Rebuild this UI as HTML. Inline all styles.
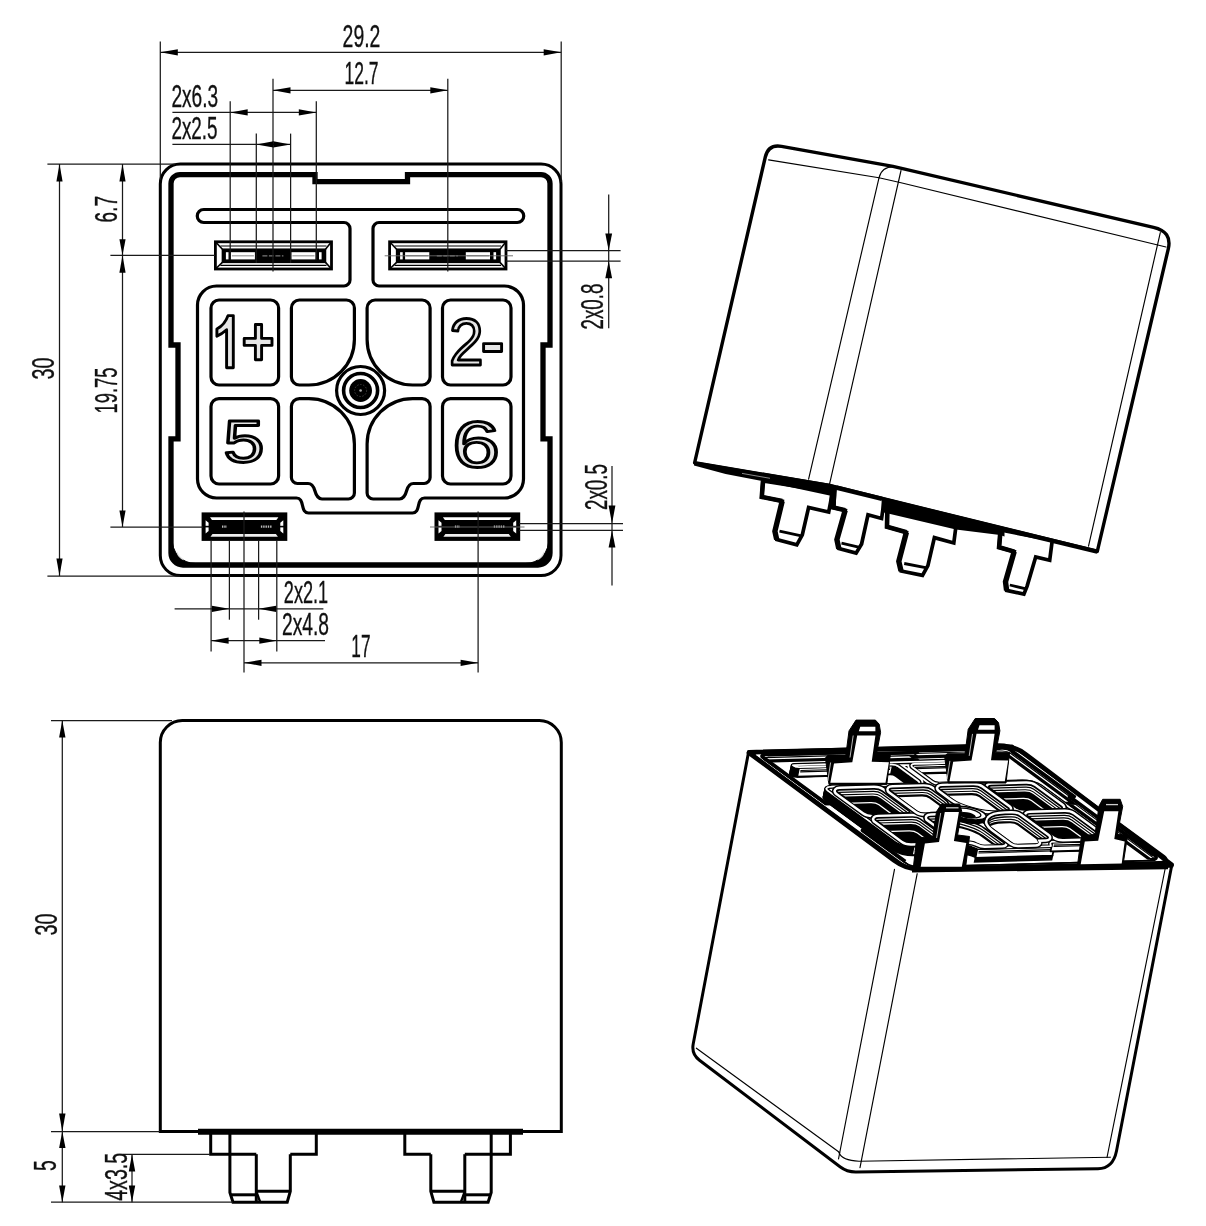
<!DOCTYPE html>
<html><head><meta charset="utf-8"><title>Relay drawing</title>
<style>
html,body{margin:0;padding:0;background:#fff;}
body{width:1206px;height:1226px;overflow:hidden;font-family:"Liberation Sans",sans-serif;}
svg{display:block;will-change:transform;}
</style></head><body>
<svg width="1206" height="1226" viewBox="0 0 1206 1226">
<rect x="0" y="0" width="1206" height="1226" fill="#fff"/>
<g id="view1">
<rect x="160.3" y="164" width="400.7" height="411.6" rx="20" ry="20" stroke="#000" stroke-width="3.0" fill="none" stroke-linejoin="round"/>
<path d="M 180,174.6 H 315 V 181.6 H 407.5 V 174.6 H 541 A 9 9 0 0 1 550,183.6 V 345 H 543 V 438.8 H 550 V 553 A 12 12 0 0 1 538,565 H 183 A 12 12 0 0 1 171,553 V 438.8 H 178 V 345 H 171 V 183.6 A 9 9 0 0 1 180,174.6 Z" stroke="#000" stroke-width="5.3" fill="none" stroke-linejoin="miter"/>
<path d="M 172.5,538 A 23 23 0 0 0 195.5,563.5 L 183,563.5 A 11 11 0 0 1 172.5,553 Z" fill="#000" stroke="#000" stroke-width="1"/>
<path d="M 176.8,552 A 14 14 0 0 0 183.5,559.8" stroke="#ddd" stroke-width="1.1" fill="none"/>
<path d="M 548.5,538 A 23 23 0 0 1 525.5,563.5 L 538,563.5 A 11 11 0 0 0 548.5,553 Z" fill="#000" stroke="#000" stroke-width="1"/>
<path d="M 544.2,552 A 14 14 0 0 1 537.5,559.8" stroke="#ddd" stroke-width="1.1" fill="none"/>
<path d="M 203.75,222.5 H 344 A 6 6 0 0 1 350,228.5 V 280 A 6 6 0 0 1 344,286 H 216.5 A 19 19 0 0 0 197.5,305 V 479 A 19 19 0 0 0 216.5,498 H 296.5 C 300.5,498 301.5,501 302.5,505.5 C 303.5,510 304.5,513 308.5,513 H 412.5 C 416.5,513 417.5,510 418.5,505.5 C 419.5,501 420.5,498 424.5,498 H 504.5 A 19 19 0 0 0 523.5,479 V 305 A 19 19 0 0 0 504.5,286 H 379 A 6 6 0 0 1 373,280 V 228.5 A 6 6 0 0 1 379,222.5 H 517.25 A 6.5 6.5 0 0 0 517.25,209.5 H 203.75 A 6.5 6.5 0 0 0 203.75,222.5 Z" stroke="#000" stroke-width="3.2" fill="none" stroke-linejoin="round"/>
<rect x="211" y="300" width="67.6" height="85.0" rx="8" ry="8" stroke="#000" stroke-width="3.2" fill="none" stroke-linejoin="round"/>
<rect x="442.5" y="300" width="68.5" height="85.0" rx="8" ry="8" stroke="#000" stroke-width="3.2" fill="none" stroke-linejoin="round"/>
<rect x="211" y="398.6" width="67.6" height="85.4" rx="8" ry="8" stroke="#000" stroke-width="3.2" fill="none" stroke-linejoin="round"/>
<rect x="442.5" y="398.6" width="68.5" height="85.4" rx="8" ry="8" stroke="#000" stroke-width="3.2" fill="none" stroke-linejoin="round"/>
<path d="M 291.4,308 A 8 8 0 0 1 299.4,300 H 346.4 A 8 8 0 0 1 354.4,308 V 339.5 A 45.5 45.5 0 0 1 308.9,385 H 299.4 A 8 8 0 0 1 291.4,377 Z" stroke="#000" stroke-width="3.2" fill="none" stroke-linejoin="round"/>
<path d="M 291.4,406.6 A 8 8 0 0 1 299.4,398.6 H 308.9 A 45.5 45.5 0 0 1 354.4,444.1 V 493 A 6 6 0 0 1 348.4,499 H 322 C 317.5,499 316,495 314.8,490.5 C 313.5,486 312,483.5 308,483.5 H 297.4 A 6 6 0 0 1 291.4,477.5 Z" stroke="#000" stroke-width="3.2" fill="none" stroke-linejoin="round"/>
<g transform="translate(721.5,0) scale(-1,1)">
<path d="M 291.4,308 A 8 8 0 0 1 299.4,300 H 346.4 A 8 8 0 0 1 354.4,308 V 339.5 A 45.5 45.5 0 0 1 308.9,385 H 299.4 A 8 8 0 0 1 291.4,377 Z" stroke="#000" stroke-width="3.2" fill="none" stroke-linejoin="round"/>
<path d="M 291.4,406.6 A 8 8 0 0 1 299.4,398.6 H 308.9 A 45.5 45.5 0 0 1 354.4,444.1 V 493 A 6 6 0 0 1 348.4,499 H 322 C 317.5,499 316,495 314.8,490.5 C 313.5,486 312,483.5 308,483.5 H 297.4 A 6 6 0 0 1 291.4,477.5 Z" stroke="#000" stroke-width="3.2" fill="none" stroke-linejoin="round"/>
</g>
<circle cx="360.6" cy="390.5" r="24" stroke="#000" stroke-width="3.2" fill="#fff"/>
<circle cx="360.6" cy="390.5" r="17" stroke="#000" stroke-width="3.6" fill="#fff"/>
<circle cx="360.6" cy="390.5" r="11.4" fill="#000"/>
<circle cx="360.6" cy="390.5" r="6" stroke="#555" stroke-width="0.7" fill="none" stroke-dasharray="1.5 1.5"/>
<circle cx="360.6" cy="390.5" r="1.3" fill="#aaa"/>
<path d="M 228,315.6 H 233.3 V 367.8 H 226.6 V 329.8 Q 222,334 216.9,336.2 V 329 Q 225,324.5 228,315.6 Z" fill="#e6e6e6" stroke="#000" stroke-width="2.9" stroke-linejoin="round"/>
<path d="M 255.4,324.5 H 261.6 V 338.4 H 272 V 345.4 H 261.6 V 359.7 H 255.4 V 345.4 H 244.2 V 338.4 H 255.4 Z" fill="#e6e6e6" stroke="#000" stroke-width="2.9" stroke-linejoin="round"/>
<path d="M 483.6,343.6 H 501.6 V 351.5 H 483.6 Z" fill="#e6e6e6" stroke="#000" stroke-width="2.9" stroke-linejoin="round"/>
<text x="448.9" y="364.6" font-family="Liberation Sans, sans-serif" font-size="67.5" textLength="34.6" lengthAdjust="spacingAndGlyphs" fill="#e6e6e6" stroke="#000" stroke-width="2.9" stroke-linejoin="round">2</text>
<text x="223.6" y="462.0" font-family="Liberation Sans, sans-serif" font-size="60" textLength="40.8" lengthAdjust="spacingAndGlyphs" fill="#e6e6e6" stroke="#000" stroke-width="2.9" stroke-linejoin="round">5</text>
<text x="452.2" y="466.6" font-family="Liberation Sans, sans-serif" font-size="65.5" textLength="47.6" lengthAdjust="spacingAndGlyphs" fill="#e6e6e6" stroke="#000" stroke-width="2.9" stroke-linejoin="round">6</text>
<rect x="215.4" y="241.8" width="116.1" height="27.2" fill="#fff" stroke="#000" stroke-width="2.8"/>
<line x1="215.4" y1="241.8" x2="222.4" y2="249.2" stroke="#000" stroke-width="1.6"/>
<line x1="331.5" y1="241.8" x2="325.5" y2="249.2" stroke="#000" stroke-width="1.6"/>
<line x1="215.4" y1="269.0" x2="222.4" y2="262.4" stroke="#000" stroke-width="1.6"/>
<line x1="331.5" y1="269.0" x2="325.5" y2="262.4" stroke="#000" stroke-width="1.6"/>
<line x1="220.4" y1="246.0" x2="326.5" y2="246.0" stroke="#000" stroke-width="1.1"/>
<line x1="220.4" y1="265.4" x2="326.5" y2="265.4" stroke="#000" stroke-width="1.1"/>
<rect x="222.4" y="249.2" width="103.1" height="13.2" fill="#000" stroke="#000" stroke-width="1.5"/>
<rect x="230.9" y="252.2" width="24.0" height="7.2" fill="#fff"/>
<line x1="231.9" y1="255.8" x2="253.9" y2="255.8" stroke="#999" stroke-width="1.2"/>
<rect x="291.4" y="252.2" width="24.1" height="7.2" fill="#fff"/>
<line x1="292.4" y1="255.8" x2="314.5" y2="255.8" stroke="#999" stroke-width="1.2"/>
<rect x="225.9" y="252.2" width="2.6" height="7.2" fill="#fff"/>
<rect x="319.0" y="252.2" width="2.6" height="7.2" fill="#fff"/>
<line x1="262.4" y1="255.8" x2="283.4" y2="255.8" stroke="#777" stroke-width="1.3" stroke-dasharray="5 1.5"/>
<rect x="389.6" y="241.8" width="116.4" height="27.2" fill="#fff" stroke="#000" stroke-width="2.8"/>
<line x1="389.6" y1="241.8" x2="396.6" y2="249.2" stroke="#000" stroke-width="1.6"/>
<line x1="506.0" y1="241.8" x2="500.0" y2="249.2" stroke="#000" stroke-width="1.6"/>
<line x1="389.6" y1="269.0" x2="396.6" y2="262.4" stroke="#000" stroke-width="1.6"/>
<line x1="506.0" y1="269.0" x2="500.0" y2="262.4" stroke="#000" stroke-width="1.6"/>
<line x1="394.6" y1="246.0" x2="501.0" y2="246.0" stroke="#000" stroke-width="1.1"/>
<line x1="394.6" y1="265.4" x2="501.0" y2="265.4" stroke="#000" stroke-width="1.1"/>
<rect x="396.6" y="249.2" width="103.4" height="13.2" fill="#000" stroke="#000" stroke-width="1.5"/>
<rect x="405.1" y="252.2" width="24.2" height="7.2" fill="#fff"/>
<line x1="406.1" y1="255.8" x2="428.3" y2="255.8" stroke="#999" stroke-width="1.2"/>
<rect x="465.8" y="252.2" width="24.2" height="7.2" fill="#fff"/>
<line x1="466.8" y1="255.8" x2="489.0" y2="255.8" stroke="#999" stroke-width="1.2"/>
<rect x="400.1" y="252.2" width="2.6" height="7.2" fill="#fff"/>
<rect x="493.5" y="252.2" width="2.6" height="7.2" fill="#fff"/>
<line x1="436.8" y1="255.8" x2="457.8" y2="255.8" stroke="#777" stroke-width="1.3" stroke-dasharray="5 1.5"/>
<rect x="203.0" y="513.8" width="82.9" height="25.7" fill="#000" stroke="#000" stroke-width="2.8"/>
<polygon points="210.0,517.1999999999999 278.4,517.1999999999999 276.4,520.0 212.0,520.0" fill="#fff"/>
<polygon points="212.5,534.1 275.9,534.1 277.9,536.7 210.5,536.7" fill="#eee"/>
<polygon points="205.6,520.3 208.6,522.8 208.6,531.0 205.6,533.5" fill="#fff"/>
<polygon points="283.29999999999995,520.3 280.29999999999995,522.8 280.29999999999995,531.0 283.29999999999995,533.5" fill="#fff"/>
<line x1="204.5" y1="526.6" x2="209.5" y2="526.6" stroke="#000" stroke-width="1.6"/>
<line x1="284.4" y1="526.6" x2="279.4" y2="526.6" stroke="#000" stroke-width="1.6"/>
<line x1="222.0" y1="526.6" x2="227.0" y2="526.6" stroke="#bbb" stroke-width="2.2" stroke-dasharray="1.4 0.9"/>
<line x1="260.9" y1="526.6" x2="272.4" y2="526.6" stroke="#bbb" stroke-width="2.2" stroke-dasharray="1.4 0.9"/>
<rect x="435.9" y="513.8" width="82.9" height="25.7" fill="#000" stroke="#000" stroke-width="2.8"/>
<polygon points="442.9,517.1999999999999 511.29999999999995,517.1999999999999 509.29999999999995,520.0 444.9,520.0" fill="#fff"/>
<polygon points="445.4,534.1 508.79999999999995,534.1 510.79999999999995,536.7 443.4,536.7" fill="#eee"/>
<polygon points="438.5,520.3 441.5,522.8 441.5,531.0 438.5,533.5" fill="#fff"/>
<polygon points="516.1999999999999,520.3 513.1999999999999,522.8 513.1999999999999,531.0 516.1999999999999,533.5" fill="#fff"/>
<line x1="437.4" y1="526.6" x2="442.4" y2="526.6" stroke="#000" stroke-width="1.6"/>
<line x1="517.3" y1="526.6" x2="512.3" y2="526.6" stroke="#000" stroke-width="1.6"/>
<line x1="454.9" y1="526.6" x2="459.9" y2="526.6" stroke="#bbb" stroke-width="2.2" stroke-dasharray="1.4 0.9"/>
<line x1="493.8" y1="526.6" x2="505.3" y2="526.6" stroke="#bbb" stroke-width="2.2" stroke-dasharray="1.4 0.9"/>
<line x1="47.4" y1="164.1" x2="175.0" y2="164.1" stroke="#1a1a1a" stroke-width="1.25" fill="none"/>
<line x1="110.4" y1="255.3" x2="215.0" y2="255.3" stroke="#1a1a1a" stroke-width="1.25" fill="none"/>
<line x1="110.4" y1="527.0" x2="203.0" y2="527.0" stroke="#1a1a1a" stroke-width="1.25" fill="none"/>
<line x1="47.4" y1="576.0" x2="180.0" y2="576.0" stroke="#1a1a1a" stroke-width="1.25" fill="none"/>
<line x1="59.5" y1="164.1" x2="59.5" y2="576.0" stroke="#1a1a1a" stroke-width="1.25" fill="none"/>
<polygon points="59.5,164.1 56.4,181.6 62.6,181.6" fill="#000"/>
<polygon points="59.5,576.0 56.4,558.5 62.6,558.5" fill="#000"/>
<text transform="translate(54.2,379.6) rotate(-90)" x="0" y="0" font-family="Liberation Sans, sans-serif" font-size="30.5" textLength="22.0" lengthAdjust="spacingAndGlyphs" fill="#111" stroke="#111" stroke-width="0.35">30</text>
<line x1="122.5" y1="164.1" x2="122.5" y2="527.0" stroke="#1a1a1a" stroke-width="1.25" fill="none"/>
<polygon points="122.5,164.1 119.4,181.6 125.6,181.6" fill="#000"/>
<polygon points="122.5,255.3 119.4,239.3 125.6,239.3" fill="#000"/>
<polygon points="122.5,255.3 119.4,272.8 125.6,272.8" fill="#000"/>
<polygon points="122.5,527.0 119.4,510.5 125.6,510.5" fill="#000"/>
<text transform="translate(117.0,222.5) rotate(-90)" x="0" y="0" font-family="Liberation Sans, sans-serif" font-size="30.5" textLength="26.5" lengthAdjust="spacingAndGlyphs" fill="#111" stroke="#111" stroke-width="0.35">6.7</text>
<text transform="translate(117.0,413.5) rotate(-90)" x="0" y="0" font-family="Liberation Sans, sans-serif" font-size="30.5" textLength="46.0" lengthAdjust="spacingAndGlyphs" fill="#111" stroke="#111" stroke-width="0.35">19.75</text>
<line x1="160.3" y1="41.6" x2="160.3" y2="180.0" stroke="#1a1a1a" stroke-width="1.25" fill="none"/>
<line x1="561.2" y1="41.6" x2="561.2" y2="182.0" stroke="#1a1a1a" stroke-width="1.25" fill="none"/>
<line x1="160.3" y1="52.3" x2="561.2" y2="52.3" stroke="#1a1a1a" stroke-width="1.25" fill="none"/>
<polygon points="160.3,52.3 177.8,49.2 177.8,55.4" fill="#000"/>
<polygon points="561.2,52.3 543.7,49.2 543.7,55.4" fill="#000"/>
<text x="342.6" y="46.8" font-family="Liberation Sans, sans-serif" font-size="30.5" textLength="37.8" lengthAdjust="spacingAndGlyphs" fill="#111" stroke="#111" stroke-width="0.35" >29.2</text>
<line x1="273.0" y1="78.8" x2="273.0" y2="271.4" stroke="#1a1a1a" stroke-width="1.25" fill="none"/>
<line x1="447.8" y1="78.8" x2="447.8" y2="271.4" stroke="#1a1a1a" stroke-width="1.25" fill="none"/>
<line x1="273.0" y1="90.3" x2="447.8" y2="90.3" stroke="#1a1a1a" stroke-width="1.25" fill="none"/>
<polygon points="273.0,90.3 290.5,87.2 290.5,93.4" fill="#000"/>
<polygon points="447.8,90.3 430.3,87.2 430.3,93.4" fill="#000"/>
<text x="344.4" y="84.3" font-family="Liberation Sans, sans-serif" font-size="30.5" textLength="34.1" lengthAdjust="spacingAndGlyphs" fill="#111" stroke="#111" stroke-width="0.35" >12.7</text>
<line x1="230.2" y1="101.3" x2="230.2" y2="260.0" stroke="#1a1a1a" stroke-width="1.25" fill="none"/>
<line x1="316.3" y1="101.3" x2="316.3" y2="260.0" stroke="#1a1a1a" stroke-width="1.25" fill="none"/>
<line x1="172.4" y1="112.4" x2="316.3" y2="112.4" stroke="#1a1a1a" stroke-width="1.25" fill="none"/>
<polygon points="230.2,112.4 247.7,109.3 247.7,115.5" fill="#000"/>
<polygon points="316.3,112.4 298.8,109.3 298.8,115.5" fill="#000"/>
<text x="171.4" y="107.0" font-family="Liberation Sans, sans-serif" font-size="30.5" textLength="46.8" lengthAdjust="spacingAndGlyphs" fill="#111" stroke="#111" stroke-width="0.35" >2x6.3</text>
<line x1="256.3" y1="133.6" x2="256.3" y2="263.0" stroke="#1a1a1a" stroke-width="1.25" fill="none"/>
<line x1="290.6" y1="133.6" x2="290.6" y2="263.0" stroke="#1a1a1a" stroke-width="1.25" fill="none"/>
<line x1="172.4" y1="144.4" x2="290.6" y2="144.4" stroke="#1a1a1a" stroke-width="1.25" fill="none"/>
<polygon points="256.3,144.4 273.5,141.3 273.5,147.5" fill="#000"/>
<polygon points="290.6,144.4 273.4,141.3 273.4,147.5" fill="#000"/>
<text x="171.4" y="139.4" font-family="Liberation Sans, sans-serif" font-size="30.5" textLength="46.2" lengthAdjust="spacingAndGlyphs" fill="#111" stroke="#111" stroke-width="0.35" >2x2.5</text>
<line x1="384.7" y1="255.8" x2="513.0" y2="255.8" stroke="#666" stroke-width="0.9"/>
<line x1="506.0" y1="250.6" x2="620.6" y2="250.6" stroke="#1a1a1a" stroke-width="1.25" fill="none"/>
<line x1="506.0" y1="261.0" x2="620.6" y2="261.0" stroke="#1a1a1a" stroke-width="1.25" fill="none"/>
<line x1="608.7" y1="194.6" x2="608.7" y2="328.2" stroke="#1a1a1a" stroke-width="1.25" fill="none"/>
<polygon points="608.7,250.6 605.3,233.4 612.1,233.4" fill="#000"/>
<polygon points="608.7,261.0 605.3,278.2 612.1,278.2" fill="#000"/>
<text transform="translate(603.2,329.5) rotate(-90)" x="0" y="0" font-family="Liberation Sans, sans-serif" font-size="30.5" textLength="46.0" lengthAdjust="spacingAndGlyphs" fill="#111" stroke="#111" stroke-width="0.35">2x0.8</text>
<line x1="430.0" y1="527.0" x2="524.5" y2="527.0" stroke="#666" stroke-width="0.9"/>
<line x1="519.0" y1="523.6" x2="623.0" y2="523.6" stroke="#1a1a1a" stroke-width="1.25" fill="none"/>
<line x1="519.0" y1="530.3" x2="623.0" y2="530.3" stroke="#1a1a1a" stroke-width="1.25" fill="none"/>
<line x1="612.0" y1="466.0" x2="612.0" y2="585.5" stroke="#1a1a1a" stroke-width="1.25" fill="none"/>
<polygon points="612.0,523.6 608.6,505.6 615.4,505.6" fill="#000"/>
<polygon points="612.0,530.3 608.6,547.5 615.4,547.5" fill="#000"/>
<text transform="translate(606.8,510.0) rotate(-90)" x="0" y="0" font-family="Liberation Sans, sans-serif" font-size="30.5" textLength="46.0" lengthAdjust="spacingAndGlyphs" fill="#111" stroke="#111" stroke-width="0.35">2x0.5</text>
<line x1="211.1" y1="540.0" x2="211.1" y2="651.6" stroke="#1a1a1a" stroke-width="1.25" fill="none"/>
<line x1="276.8" y1="540.0" x2="276.8" y2="651.6" stroke="#1a1a1a" stroke-width="1.25" fill="none"/>
<line x1="229.4" y1="540.0" x2="229.4" y2="619.7" stroke="#1a1a1a" stroke-width="1.25" fill="none"/>
<line x1="258.6" y1="540.0" x2="258.6" y2="619.7" stroke="#1a1a1a" stroke-width="1.25" fill="none"/>
<line x1="244.0" y1="511.5" x2="244.0" y2="672.5" stroke="#1a1a1a" stroke-width="1.25" fill="none"/>
<line x1="478.1" y1="511.5" x2="478.1" y2="672.5" stroke="#1a1a1a" stroke-width="1.25" fill="none"/>
<line x1="174.6" y1="608.8" x2="323.4" y2="608.8" stroke="#1a1a1a" stroke-width="1.25" fill="none"/>
<polygon points="229.4,608.8 211.9,605.7 211.9,611.9" fill="#000"/>
<polygon points="258.6,608.8 276.1,605.7 276.1,611.9" fill="#000"/>
<text x="283.8" y="603.4" font-family="Liberation Sans, sans-serif" font-size="30.5" textLength="44.4" lengthAdjust="spacingAndGlyphs" fill="#111" stroke="#111" stroke-width="0.35" >2x2.1</text>
<line x1="211.1" y1="640.7" x2="325.0" y2="640.7" stroke="#1a1a1a" stroke-width="1.25" fill="none"/>
<polygon points="211.1,640.7 228.6,637.6 228.6,643.8" fill="#000"/>
<polygon points="276.8,640.7 259.3,637.6 259.3,643.8" fill="#000"/>
<text x="282.0" y="635.3" font-family="Liberation Sans, sans-serif" font-size="30.5" textLength="47.0" lengthAdjust="spacingAndGlyphs" fill="#111" stroke="#111" stroke-width="0.35" >2x4.8</text>
<line x1="244.0" y1="662.8" x2="478.1" y2="662.8" stroke="#1a1a1a" stroke-width="1.25" fill="none"/>
<polygon points="244.0,662.8 261.5,659.7 261.5,665.9" fill="#000"/>
<polygon points="478.1,662.8 460.6,659.7 460.6,665.9" fill="#000"/>
<text x="351.3" y="657.2" font-family="Liberation Sans, sans-serif" font-size="30.5" textLength="19.2" lengthAdjust="spacingAndGlyphs" fill="#111" stroke="#111" stroke-width="0.35" >17</text>
</g>
<g id="side">
<path d="M 160.3,1131.6 V 742.6 A 22 22 0 0 1 182.3,720.6 H 539.3 A 22 22 0 0 1 561.3,742.6 V 1131.6 Z" stroke="#000" stroke-width="3" fill="none" stroke-linejoin="miter"/>
<line x1="198.0" y1="1131.8" x2="523.0" y2="1131.8" stroke="#000" stroke-width="6"/>
<path d="M 210.7,1131.6 V 1154.2 H 256.3 M 290.3,1154.2 H 316.3 V 1131.6" stroke="#000" stroke-width="3" fill="none" stroke-linejoin="miter"/>
<path d="M 229.9,1131.6 V 1192.5 L 233,1202.2 H 287.2 L 290.3,1191.3 V 1154.2" stroke="#000" stroke-width="3" fill="none" stroke-linejoin="miter"/>
<path d="M 256.3,1154.2 V 1202.2" stroke="#000" stroke-width="3" fill="none" stroke-linejoin="miter"/>
<path d="M 256.3,1191.3 H 290.3" stroke="#000" stroke-width="3" fill="none" stroke-linejoin="miter"/>
<path d="M 231.2,1194.8 H 256.3" stroke="#000" stroke-width="3" fill="none" stroke-linejoin="miter"/>
<path d="M 256.3,1191.3 L 260.2,1202.2" stroke="#000" stroke-width="2.4" fill="none"/>
<g transform="translate(721.1,0) scale(-1,1)">
<path d="M 210.7,1131.6 V 1154.2 H 256.3 M 290.3,1154.2 H 316.3 V 1131.6" stroke="#000" stroke-width="3" fill="none" stroke-linejoin="miter"/>
<path d="M 229.9,1131.6 V 1192.5 L 233,1202.2 H 287.2 L 290.3,1191.3 V 1154.2" stroke="#000" stroke-width="3" fill="none" stroke-linejoin="miter"/>
<path d="M 256.3,1154.2 V 1202.2" stroke="#000" stroke-width="3" fill="none" stroke-linejoin="miter"/>
<path d="M 256.3,1191.3 H 290.3" stroke="#000" stroke-width="3" fill="none" stroke-linejoin="miter"/>
<path d="M 231.2,1194.8 H 256.3" stroke="#000" stroke-width="3" fill="none" stroke-linejoin="miter"/>
<path d="M 256.3,1191.3 L 260.2,1202.2" stroke="#000" stroke-width="2.4" fill="none"/>
</g>
<line x1="51.0" y1="720.5" x2="172.0" y2="720.5" stroke="#1a1a1a" stroke-width="1.25" fill="none"/>
<line x1="51.0" y1="1131.6" x2="160.0" y2="1131.6" stroke="#1a1a1a" stroke-width="1.25" fill="none"/>
<line x1="51.0" y1="1202.2" x2="233.0" y2="1202.2" stroke="#1a1a1a" stroke-width="1.25" fill="none"/>
<line x1="62.3" y1="720.5" x2="62.3" y2="1202.2" stroke="#1a1a1a" stroke-width="1.25" fill="none"/>
<polygon points="62.3,720.5 59.1,737.5 65.5,737.5" fill="#000"/>
<polygon points="62.3,1131.6 59.1,1113.6 65.5,1113.6" fill="#000"/>
<polygon points="62.3,1131.6 59.1,1148.1 65.5,1148.1" fill="#000"/>
<polygon points="62.3,1202.2 59.1,1185.5 65.5,1185.5" fill="#000"/>
<text transform="translate(57.2,935.5) rotate(-90)" x="0" y="0" font-family="Liberation Sans, sans-serif" font-size="30.5" textLength="22.0" lengthAdjust="spacingAndGlyphs" fill="#111" stroke="#111" stroke-width="0.35">30</text>
<text transform="translate(56.0,1171.0) rotate(-90)" x="0" y="0" font-family="Liberation Sans, sans-serif" font-size="30.5" textLength="10.8" lengthAdjust="spacingAndGlyphs" fill="#111" stroke="#111" stroke-width="0.35">5</text>
<line x1="123.0" y1="1154.3" x2="210.0" y2="1154.3" stroke="#1a1a1a" stroke-width="1.25" fill="none"/>
<line x1="132.0" y1="1154.3" x2="132.0" y2="1202.2" stroke="#1a1a1a" stroke-width="1.25" fill="none"/>
<polygon points="132.0,1154.3 128.8,1171.6 135.2,1171.6" fill="#000"/>
<polygon points="132.0,1202.2 128.8,1185.5 135.2,1185.5" fill="#000"/>
<text transform="translate(127.0,1200.8) rotate(-90)" x="0" y="0" font-family="Liberation Sans, sans-serif" font-size="30.5" textLength="48.0" lengthAdjust="spacingAndGlyphs" fill="#111" stroke="#111" stroke-width="0.35">4x3.5</text>
</g>
<g id="iso1">
<path d="M 763.0,481.0 L 761.8,496.9 L 782.2,501.1 L 774.9,531.2 L 776.7,539.5 L 796.8,544.9 L 802.3,534.9 L 808.6,507.5 L 828.7,512.1 L 832.5,492.0 Z" stroke="#000" stroke-width="3.7" fill="#fff" stroke-linejoin="miter"/>
<path d="M 834.5,487.0 L 833.3,507.5 L 845.2,510.3 L 836.9,539.5 L 838.8,548.6 L 856.1,553.1 L 861.6,544.0 L 868.0,514.8 L 881.6,518.5 L 884.5,498.0 Z" stroke="#000" stroke-width="3.7" fill="#fff" stroke-linejoin="miter"/>
<path d="M 887.5,503.0 L 887.0,526.8 L 906.4,532.2 L 898.8,561.3 L 901.0,571.0 L 922.5,575.4 L 927.9,565.6 L 934.4,537.6 L 953.8,543.0 L 956.5,522.0 Z" stroke="#000" stroke-width="3.7" fill="#fff" stroke-linejoin="miter"/>
<path d="M 1000.5,530.0 L 999.1,547.3 L 1014.2,551.6 L 1005.5,581.8 L 1006.6,590.4 L 1023.9,594.1 L 1027.1,586.1 L 1035.7,557.0 L 1049.7,560.3 L 1052.3,540.0 Z" stroke="#000" stroke-width="3.7" fill="#fff" stroke-linejoin="miter"/>
<path d="M 779.5,531.2 L 801.4,535.8" stroke="#000" stroke-width="2.8" fill="none"/>
<path d="M 841.5,543.1 L 860.7,547.7" stroke="#000" stroke-width="2.8" fill="none"/>
<path d="M 904.2,563.5 L 926.8,567.8" stroke="#000" stroke-width="2.8" fill="none"/>
<path d="M 1009.8,585.0 L 1026.0,588.9" stroke="#000" stroke-width="2.8" fill="none"/>
<path d="M 782.2,501.1 L 774.9,531.2 L 776.7,539.5" stroke="#000" stroke-width="5.4" fill="none" stroke-linejoin="miter"/>
<path d="M 763.0,481.0 L 761.8,496.9 L 782.2,501.1" stroke="#000" stroke-width="4.6" fill="none" stroke-linejoin="miter"/>
<path d="M 845.2,510.3 L 836.9,539.5 L 838.8,548.6" stroke="#000" stroke-width="5.4" fill="none" stroke-linejoin="miter"/>
<path d="M 834.5,487.0 L 833.3,507.5 L 845.2,510.3" stroke="#000" stroke-width="4.6" fill="none" stroke-linejoin="miter"/>
<path d="M 906.4,532.2 L 898.8,561.3 L 901.0,571.0" stroke="#000" stroke-width="5.4" fill="none" stroke-linejoin="miter"/>
<path d="M 887.5,503.0 L 887.0,526.8 L 906.4,532.2" stroke="#000" stroke-width="4.6" fill="none" stroke-linejoin="miter"/>
<path d="M 1014.2,551.6 L 1005.5,581.8 L 1006.6,590.4" stroke="#000" stroke-width="5.4" fill="none" stroke-linejoin="miter"/>
<path d="M 1000.5,530.0 L 999.1,547.3 L 1014.2,551.6" stroke="#000" stroke-width="4.6" fill="none" stroke-linejoin="miter"/>
<path d="M 833.5,486.0 L 832.3,509.0" stroke="#000" stroke-width="6.5" fill="none"/>
<path d="M 694.6,462.8 L 765.3,157 Q 768.3,144 781.5,146.3 L 893,166.4 L 1153.5,227.3 Q 1172.3,231.6 1168.3,248.8 L 1097.3,551.4 L 829.6,485.4 Z" stroke="#000" stroke-width="3.4" fill="#fff" stroke-linejoin="round"/>
<path d="M 694.0,461.3 L 829.6,483.8 L 836.0,485.4 L 836.0,497.0 L 829.6,495.5 L 762.0,481.0 L 725.6,474.0 L 694.0,465.5 Z" fill="#000" stroke="none"/>
<path d="M 881.6,496.7 L 1004.5,527.1 L 1004.5,536.5 L 1000.0,535.0 L 955.9,529.5 L 887.0,513.3 L 881.6,512.0 Z" fill="#000" stroke="none"/>
<path d="M 836.0,487.5 L 882.0,498.9" stroke="#000" stroke-width="4.4" fill="none"/>
<path d="M 1004.0,529.1 L 1097.3,551.6" stroke="#000" stroke-width="4.4" fill="none"/>
<path d="M 742.0,473.4 L 770.0,478.3" stroke="#999" stroke-width="0.9" fill="none"/>
<path d="M 768.6,159.9 L 879.0,177.8 L 901.0,182.7 L 1166.0,247.0" stroke="#000" stroke-width="1.15" fill="none" stroke-linecap="round"/>
<path d="M 879.0,177.8 L 808.6,479.2" stroke="#000" stroke-width="1.15" fill="none" stroke-linecap="round"/>
<path d="M 901.0,170.5 L 829.6,483.8" stroke="#000" stroke-width="1.15" fill="none" stroke-linecap="round"/>
<path d="M 879,177.8 Q 881.8,166.5 894,166.8" stroke="#000" stroke-width="1.15" fill="none" stroke-linecap="round"/>
<path d="M 1160.3,232.6 L 1088.5,546.2" stroke="#000" stroke-width="1.15" fill="none" stroke-linecap="round"/>
</g>
<g id="iso2">
<path d="M 748.5,752.5 L 693.2,1044 Q 691.3,1054 699.5,1060.2 L 840,1166.7 Q 847,1172 856,1171.9 L 1098,1168.7 Q 1113,1168.5 1116.5,1151 L 1171.8,865 L 1012,746 Z" stroke="#000" stroke-width="3" fill="#fff" stroke-linejoin="round"/>
<path d="M 696.4,1048.2 L 839.6,1152.5" stroke="#000" stroke-width="1.15" fill="none" stroke-linecap="round"/>
<path d="M 894.5,869.4 L 838.5,1159.0" stroke="#000" stroke-width="1.15" fill="none" stroke-linecap="round"/>
<path d="M 917.2,873.7 L 860.0,1167.6" stroke="#000" stroke-width="1.15" fill="none" stroke-linecap="round"/>
<path d="M 838.9,1152.5 Q 842,1160.5 859,1161.2 L 1110.3,1157.2" stroke="#000" stroke-width="1.15" fill="none" stroke-linecap="round"/>
<path d="M 1107.0,1157.5 L 1165.3,868.0" stroke="#000" stroke-width="1.15" fill="none" stroke-linecap="round"/>
<defs><clipPath id="cp_open"><path d="M 180,174.6 H 315 V 181.6 H 407.5 V 174.6 H 541 A 9 9 0 0 1 550,183.6 V 345 H 543 V 438.8 H 550 V 551 A 14 14 0 0 1 536,565 H 185 A 14 14 0 0 1 171,551 V 438.8 H 178 V 345 H 171 V 183.6 A 9 9 0 0 1 180,174.6 Z"/></clipPath><clipPath id="cp_c1"><path d="M 219,300 H 270.6 A 8 8 0 0 1 278.6,308 V 377 A 8 8 0 0 1 270.6,385 H 219 A 8 8 0 0 1 211,377 V 308 A 8 8 0 0 1 219,300 Z"/></clipPath><clipPath id="cp_c4"><path d="M 450.5,300 H 503 A 8 8 0 0 1 511,308 V 377 A 8 8 0 0 1 503,385 H 450.5 A 8 8 0 0 1 442.5,377 V 308 A 8 8 0 0 1 450.5,300 Z"/></clipPath><clipPath id="cp_c5"><path d="M 219,398.6 H 270.6 A 8 8 0 0 1 278.6,406.6 V 476 A 8 8 0 0 1 270.6,484 H 219 A 8 8 0 0 1 211,476 V 406.6 A 8 8 0 0 1 219,398.6 Z"/></clipPath><clipPath id="cp_c8"><path d="M 450.5,398.6 H 503 A 8 8 0 0 1 511,406.6 V 476 A 8 8 0 0 1 503,484 H 450.5 A 8 8 0 0 1 442.5,476 V 406.6 A 8 8 0 0 1 450.5,398.6 Z"/></clipPath><clipPath id="cp_c2"><path d="M 291.4,308 A 8 8 0 0 1 299.4,300 H 346.4 A 8 8 0 0 1 354.4,308 V 339.5 A 45.5 45.5 0 0 1 308.9,385 H 299.4 A 8 8 0 0 1 291.4,377 Z"/></clipPath><clipPath id="cp_c6"><path d="M 291.4,406.6 A 8 8 0 0 1 299.4,398.6 H 308.9 A 45.5 45.5 0 0 1 354.4,444.1 V 493 A 6 6 0 0 1 348.4,499 H 322 C 317.5,499 316,495 314.8,490.5 C 313.5,486 312,483.5 308,483.5 H 297.4 A 6 6 0 0 1 291.4,477.5 Z"/></clipPath><clipPath id="cp_c3"><path d="M 291.4,308 A 8 8 0 0 1 299.4,300 H 346.4 A 8 8 0 0 1 354.4,308 V 339.5 A 45.5 45.5 0 0 1 308.9,385 H 299.4 A 8 8 0 0 1 291.4,377 Z" transform="translate(721.5,0) scale(-1,1)"/></clipPath><clipPath id="cp_c7"><path d="M 291.4,406.6 A 8 8 0 0 1 299.4,398.6 H 308.9 A 45.5 45.5 0 0 1 354.4,444.1 V 493 A 6 6 0 0 1 348.4,499 H 322 C 317.5,499 316,495 314.8,490.5 C 313.5,486 312,483.5 308,483.5 H 297.4 A 6 6 0 0 1 291.4,477.5 Z" transform="translate(721.5,0) scale(-1,1)"/></clipPath></defs>
<defs><clipPath id="cp_panel"><path d="M 203.75,222.5 H 344 A 6 6 0 0 1 350,228.5 V 280 A 6 6 0 0 1 344,286 H 216.5 A 19 19 0 0 0 197.5,305 V 479 A 19 19 0 0 0 216.5,498 H 294 C 299,498 300,501 302,505.5 C 304,510 305,513 310,513 H 411.5 C 416.5,513 417.5,510 419.5,505.5 C 421.5,501 422.5,498 427.5,498 H 504.5 A 19 19 0 0 0 523.5,479 V 305 A 19 19 0 0 0 504.5,286 H 379 A 6 6 0 0 1 373,280 V 228.5 A 6 6 0 0 1 379,222.5 H 517.25 A 6.5 6.5 0 0 0 517.25,209.5 H 203.75 A 6.5 6.5 0 0 0 203.75,222.5 Z"/></clipPath></defs>
<g transform="matrix(0.6559,-0.0182,0.39,0.2857,579.1,708.06)">
<rect x="160.3" y="164" width="400.7" height="412" rx="20" ry="20" fill="#fff" stroke="#000" stroke-width="3.4" vector-effect="non-scaling-stroke"/>
<path d="M 180,174.6 H 315 V 181.6 H 407.5 V 174.6 H 541 A 9 9 0 0 1 550,183.6 V 345 H 543 V 438.8 H 550 V 551 A 14 14 0 0 1 536,565 H 185 A 14 14 0 0 1 171,551 V 438.8 H 178 V 345 H 171 V 183.6 A 9 9 0 0 1 180,174.6 Z" fill="#fff" stroke="#000" stroke-width="3.4" vector-effect="non-scaling-stroke" stroke-linejoin="round"/>
<g clip-path="url(#cp_open)"><path d="M 180,174.6 H 315 V 181.6 H 407.5 V 174.6 H 541 A 9 9 0 0 1 550,183.6 V 345 H 543 V 438.8 H 550 V 551 A 14 14 0 0 1 536,565 H 185 A 14 14 0 0 1 171,551 V 438.8 H 178 V 345 H 171 V 183.6 A 9 9 0 0 1 180,174.6 Z" transform="translate(-15.19,21.97)" fill="#fff" stroke="#000" stroke-width="3.2" vector-effect="non-scaling-stroke"/><path d="M 180,174.6 H 315 V 181.6 H 407.5 V 174.6 H 541 A 9 9 0 0 1 550,183.6 V 345 H 543 V 438.8 H 550 V 551 A 14 14 0 0 1 536,565 H 185 A 14 14 0 0 1 171,551 V 438.8 H 178 V 345 H 171 V 183.6 A 9 9 0 0 1 180,174.6 Z" transform="translate(-6.75,9.76)" fill="none" stroke="#000" stroke-width="1.2" vector-effect="non-scaling-stroke"/></g>
<path d="M 203.75,222.5 H 344 A 6 6 0 0 1 350,228.5 V 280 A 6 6 0 0 1 344,286 H 216.5 A 19 19 0 0 0 197.5,305 V 479 A 19 19 0 0 0 216.5,498 H 294 C 299,498 300,501 302,505.5 C 304,510 305,513 310,513 H 411.5 C 416.5,513 417.5,510 419.5,505.5 C 421.5,501 422.5,498 427.5,498 H 504.5 A 19 19 0 0 0 523.5,479 V 305 A 19 19 0 0 0 504.5,286 H 379 A 6 6 0 0 1 373,280 V 228.5 A 6 6 0 0 1 379,222.5 H 517.25 A 6.5 6.5 0 0 0 517.25,209.5 H 203.75 A 6.5 6.5 0 0 0 203.75,222.5 Z" transform="translate(-0.00,0.00)" fill="#000" stroke="#000" stroke-width="2.4" vector-effect="non-scaling-stroke" stroke-linejoin="round"/>
<path d="M 203.75,222.5 H 344 A 6 6 0 0 1 350,228.5 V 280 A 6 6 0 0 1 344,286 H 216.5 A 19 19 0 0 0 197.5,305 V 479 A 19 19 0 0 0 216.5,498 H 294 C 299,498 300,501 302,505.5 C 304,510 305,513 310,513 H 411.5 C 416.5,513 417.5,510 419.5,505.5 C 421.5,501 422.5,498 427.5,498 H 504.5 A 19 19 0 0 0 523.5,479 V 305 A 19 19 0 0 0 504.5,286 H 379 A 6 6 0 0 1 373,280 V 228.5 A 6 6 0 0 1 379,222.5 H 517.25 A 6.5 6.5 0 0 0 517.25,209.5 H 203.75 A 6.5 6.5 0 0 0 203.75,222.5 Z" transform="translate(-1.69,2.44)" fill="#000" stroke="#000" stroke-width="2.4" vector-effect="non-scaling-stroke" stroke-linejoin="round"/>
<path d="M 203.75,222.5 H 344 A 6 6 0 0 1 350,228.5 V 280 A 6 6 0 0 1 344,286 H 216.5 A 19 19 0 0 0 197.5,305 V 479 A 19 19 0 0 0 216.5,498 H 294 C 299,498 300,501 302,505.5 C 304,510 305,513 310,513 H 411.5 C 416.5,513 417.5,510 419.5,505.5 C 421.5,501 422.5,498 427.5,498 H 504.5 A 19 19 0 0 0 523.5,479 V 305 A 19 19 0 0 0 504.5,286 H 379 A 6 6 0 0 1 373,280 V 228.5 A 6 6 0 0 1 379,222.5 H 517.25 A 6.5 6.5 0 0 0 517.25,209.5 H 203.75 A 6.5 6.5 0 0 0 203.75,222.5 Z" transform="translate(-3.38,4.88)" fill="#000" stroke="#000" stroke-width="2.4" vector-effect="non-scaling-stroke" stroke-linejoin="round"/>
<path d="M 203.75,222.5 H 344 A 6 6 0 0 1 350,228.5 V 280 A 6 6 0 0 1 344,286 H 216.5 A 19 19 0 0 0 197.5,305 V 479 A 19 19 0 0 0 216.5,498 H 294 C 299,498 300,501 302,505.5 C 304,510 305,513 310,513 H 411.5 C 416.5,513 417.5,510 419.5,505.5 C 421.5,501 422.5,498 427.5,498 H 504.5 A 19 19 0 0 0 523.5,479 V 305 A 19 19 0 0 0 504.5,286 H 379 A 6 6 0 0 1 373,280 V 228.5 A 6 6 0 0 1 379,222.5 H 517.25 A 6.5 6.5 0 0 0 517.25,209.5 H 203.75 A 6.5 6.5 0 0 0 203.75,222.5 Z" transform="translate(-5.06,7.32)" fill="#000" stroke="#000" stroke-width="2.4" vector-effect="non-scaling-stroke" stroke-linejoin="round"/>
<path d="M 203.75,222.5 H 344 A 6 6 0 0 1 350,228.5 V 280 A 6 6 0 0 1 344,286 H 216.5 A 19 19 0 0 0 197.5,305 V 479 A 19 19 0 0 0 216.5,498 H 294 C 299,498 300,501 302,505.5 C 304,510 305,513 310,513 H 411.5 C 416.5,513 417.5,510 419.5,505.5 C 421.5,501 422.5,498 427.5,498 H 504.5 A 19 19 0 0 0 523.5,479 V 305 A 19 19 0 0 0 504.5,286 H 379 A 6 6 0 0 1 373,280 V 228.5 A 6 6 0 0 1 379,222.5 H 517.25 A 6.5 6.5 0 0 0 517.25,209.5 H 203.75 A 6.5 6.5 0 0 0 203.75,222.5 Z" transform="translate(-6.75,9.76)" fill="#000" stroke="#000" stroke-width="2.4" vector-effect="non-scaling-stroke" stroke-linejoin="round"/>
<path d="M 203.75,222.5 H 344 A 6 6 0 0 1 350,228.5 V 280 A 6 6 0 0 1 344,286 H 216.5 A 19 19 0 0 0 197.5,305 V 479 A 19 19 0 0 0 216.5,498 H 294 C 299,498 300,501 302,505.5 C 304,510 305,513 310,513 H 411.5 C 416.5,513 417.5,510 419.5,505.5 C 421.5,501 422.5,498 427.5,498 H 504.5 A 19 19 0 0 0 523.5,479 V 305 A 19 19 0 0 0 504.5,286 H 379 A 6 6 0 0 1 373,280 V 228.5 A 6 6 0 0 1 379,222.5 H 517.25 A 6.5 6.5 0 0 0 517.25,209.5 H 203.75 A 6.5 6.5 0 0 0 203.75,222.5 Z" transform="translate(-8.44,12.20)" fill="#000" stroke="#000" stroke-width="2.4" vector-effect="non-scaling-stroke" stroke-linejoin="round"/>
<path d="M 203.75,222.5 H 344 A 6 6 0 0 1 350,228.5 V 280 A 6 6 0 0 1 344,286 H 216.5 A 19 19 0 0 0 197.5,305 V 479 A 19 19 0 0 0 216.5,498 H 294 C 299,498 300,501 302,505.5 C 304,510 305,513 310,513 H 411.5 C 416.5,513 417.5,510 419.5,505.5 C 421.5,501 422.5,498 427.5,498 H 504.5 A 19 19 0 0 0 523.5,479 V 305 A 19 19 0 0 0 504.5,286 H 379 A 6 6 0 0 1 373,280 V 228.5 A 6 6 0 0 1 379,222.5 H 517.25 A 6.5 6.5 0 0 0 517.25,209.5 H 203.75 A 6.5 6.5 0 0 0 203.75,222.5 Z" transform="translate(-10.12,14.64)" fill="#000" stroke="#000" stroke-width="2.4" vector-effect="non-scaling-stroke" stroke-linejoin="round"/>
<path d="M 203.75,222.5 H 344 A 6 6 0 0 1 350,228.5 V 280 A 6 6 0 0 1 344,286 H 216.5 A 19 19 0 0 0 197.5,305 V 479 A 19 19 0 0 0 216.5,498 H 294 C 299,498 300,501 302,505.5 C 304,510 305,513 310,513 H 411.5 C 416.5,513 417.5,510 419.5,505.5 C 421.5,501 422.5,498 427.5,498 H 504.5 A 19 19 0 0 0 523.5,479 V 305 A 19 19 0 0 0 504.5,286 H 379 A 6 6 0 0 1 373,280 V 228.5 A 6 6 0 0 1 379,222.5 H 517.25 A 6.5 6.5 0 0 0 517.25,209.5 H 203.75 A 6.5 6.5 0 0 0 203.75,222.5 Z" transform="translate(-11.81,17.08)" fill="#000" stroke="#000" stroke-width="2.4" vector-effect="non-scaling-stroke" stroke-linejoin="round"/>
<path d="M 203.75,222.5 H 344 A 6 6 0 0 1 350,228.5 V 280 A 6 6 0 0 1 344,286 H 216.5 A 19 19 0 0 0 197.5,305 V 479 A 19 19 0 0 0 216.5,498 H 294 C 299,498 300,501 302,505.5 C 304,510 305,513 310,513 H 411.5 C 416.5,513 417.5,510 419.5,505.5 C 421.5,501 422.5,498 427.5,498 H 504.5 A 19 19 0 0 0 523.5,479 V 305 A 19 19 0 0 0 504.5,286 H 379 A 6 6 0 0 1 373,280 V 228.5 A 6 6 0 0 1 379,222.5 H 517.25 A 6.5 6.5 0 0 0 517.25,209.5 H 203.75 A 6.5 6.5 0 0 0 203.75,222.5 Z" transform="translate(-13.50,19.52)" fill="#000" stroke="#000" stroke-width="2.4" vector-effect="non-scaling-stroke" stroke-linejoin="round"/>
<path d="M 203.75,222.5 H 344 A 6 6 0 0 1 350,228.5 V 280 A 6 6 0 0 1 344,286 H 216.5 A 19 19 0 0 0 197.5,305 V 479 A 19 19 0 0 0 216.5,498 H 294 C 299,498 300,501 302,505.5 C 304,510 305,513 310,513 H 411.5 C 416.5,513 417.5,510 419.5,505.5 C 421.5,501 422.5,498 427.5,498 H 504.5 A 19 19 0 0 0 523.5,479 V 305 A 19 19 0 0 0 504.5,286 H 379 A 6 6 0 0 1 373,280 V 228.5 A 6 6 0 0 1 379,222.5 H 517.25 A 6.5 6.5 0 0 0 517.25,209.5 H 203.75 A 6.5 6.5 0 0 0 203.75,222.5 Z" transform="translate(-15.19,21.97)" fill="#000" stroke="#000" stroke-width="2.4" vector-effect="non-scaling-stroke" stroke-linejoin="round"/>
<path d="M 203.75,222.5 H 344 A 6 6 0 0 1 350,228.5 V 280 A 6 6 0 0 1 344,286 H 216.5 A 19 19 0 0 0 197.5,305 V 479 A 19 19 0 0 0 216.5,498 H 294 C 299,498 300,501 302,505.5 C 304,510 305,513 310,513 H 411.5 C 416.5,513 417.5,510 419.5,505.5 C 421.5,501 422.5,498 427.5,498 H 504.5 A 19 19 0 0 0 523.5,479 V 305 A 19 19 0 0 0 504.5,286 H 379 A 6 6 0 0 1 373,280 V 228.5 A 6 6 0 0 1 379,222.5 H 517.25 A 6.5 6.5 0 0 0 517.25,209.5 H 203.75 A 6.5 6.5 0 0 0 203.75,222.5 Z" transform="translate(-16.88,24.41)" fill="#000" stroke="#000" stroke-width="2.4" vector-effect="non-scaling-stroke" stroke-linejoin="round"/>
<path d="M 203.75,222.5 H 344 A 6 6 0 0 1 350,228.5 V 280 A 6 6 0 0 1 344,286 H 216.5 A 19 19 0 0 0 197.5,305 V 479 A 19 19 0 0 0 216.5,498 H 294 C 299,498 300,501 302,505.5 C 304,510 305,513 310,513 H 411.5 C 416.5,513 417.5,510 419.5,505.5 C 421.5,501 422.5,498 427.5,498 H 504.5 A 19 19 0 0 0 523.5,479 V 305 A 19 19 0 0 0 504.5,286 H 379 A 6 6 0 0 1 373,280 V 228.5 A 6 6 0 0 1 379,222.5 H 517.25 A 6.5 6.5 0 0 0 517.25,209.5 H 203.75 A 6.5 6.5 0 0 0 203.75,222.5 Z" transform="translate(-18.56,26.85)" fill="#000" stroke="#000" stroke-width="2.4" vector-effect="non-scaling-stroke" stroke-linejoin="round"/>
<path d="M 203.75,222.5 H 344 A 6 6 0 0 1 350,228.5 V 280 A 6 6 0 0 1 344,286 H 216.5 A 19 19 0 0 0 197.5,305 V 479 A 19 19 0 0 0 216.5,498 H 294 C 299,498 300,501 302,505.5 C 304,510 305,513 310,513 H 411.5 C 416.5,513 417.5,510 419.5,505.5 C 421.5,501 422.5,498 427.5,498 H 504.5 A 19 19 0 0 0 523.5,479 V 305 A 19 19 0 0 0 504.5,286 H 379 A 6 6 0 0 1 373,280 V 228.5 A 6 6 0 0 1 379,222.5 H 517.25 A 6.5 6.5 0 0 0 517.25,209.5 H 203.75 A 6.5 6.5 0 0 0 203.75,222.5 Z" transform="translate(-20.25,29.29)" fill="#000" stroke="#000" stroke-width="2.4" vector-effect="non-scaling-stroke" stroke-linejoin="round"/>
<polygon points="281.8,542.3 399.2,542.3 390.0,555.7 272.5,555.7" fill="#000" stroke="#000" stroke-width="1.5" vector-effect="non-scaling-stroke"/>
<polygon points="302,513 419.5,513 399.2,542.3 281.8,542.3" fill="#fff" stroke="#000" stroke-width="1.8" vector-effect="non-scaling-stroke" stroke-linejoin="round"/>
<line x1="298.9" y1="521.8" x2="410.4" y2="521.8" stroke="#000" stroke-width="1.2" vector-effect="non-scaling-stroke"/>
<line x1="295.9" y1="526.2" x2="407.4" y2="526.2" stroke="#000" stroke-width="1.2" vector-effect="non-scaling-stroke"/>
<polygon points="193.8,527.3 275.8,527.3 275.8,527.3 193.8,527.3" fill="#000" stroke="#000" stroke-width="1.5" vector-effect="non-scaling-stroke"/>
<polygon points="214,498 296,498 275.8,527.3 193.8,527.3" fill="#fff" stroke="#000" stroke-width="1.8" vector-effect="non-scaling-stroke" stroke-linejoin="round"/>
<line x1="210.9" y1="506.8" x2="286.9" y2="506.8" stroke="#000" stroke-width="1.2" vector-effect="non-scaling-stroke"/>
<line x1="207.9" y1="511.2" x2="283.9" y2="511.2" stroke="#000" stroke-width="1.2" vector-effect="non-scaling-stroke"/>
<polygon points="405.2,527.3 485.8,527.3 485.8,527.3 405.2,527.3" fill="#000" stroke="#000" stroke-width="1.5" vector-effect="non-scaling-stroke"/>
<polygon points="425.5,498 506,498 485.8,527.3 405.2,527.3" fill="#fff" stroke="#000" stroke-width="1.8" vector-effect="non-scaling-stroke" stroke-linejoin="round"/>
<line x1="422.4" y1="506.8" x2="496.9" y2="506.8" stroke="#000" stroke-width="1.2" vector-effect="non-scaling-stroke"/>
<line x1="419.4" y1="511.2" x2="493.9" y2="511.2" stroke="#000" stroke-width="1.2" vector-effect="non-scaling-stroke"/>
<polygon points="182.8,251.8 325.8,251.8 325.8,251.8 182.8,251.8" fill="#000" stroke="#000" stroke-width="1.5" vector-effect="non-scaling-stroke"/>
<polygon points="203,222.5 346,222.5 325.8,251.8 182.8,251.8" fill="#fff" stroke="#000" stroke-width="1.8" vector-effect="non-scaling-stroke" stroke-linejoin="round"/>
<line x1="199.9" y1="231.3" x2="336.9" y2="231.3" stroke="#000" stroke-width="1.2" vector-effect="non-scaling-stroke"/>
<line x1="196.9" y1="235.7" x2="333.9" y2="235.7" stroke="#000" stroke-width="1.2" vector-effect="non-scaling-stroke"/>
<polygon points="356.8,251.8 497.8,251.8 497.8,251.8 356.8,251.8" fill="#000" stroke="#000" stroke-width="1.5" vector-effect="non-scaling-stroke"/>
<polygon points="377,222.5 518,222.5 497.8,251.8 356.8,251.8" fill="#fff" stroke="#000" stroke-width="1.8" vector-effect="non-scaling-stroke" stroke-linejoin="round"/>
<line x1="373.9" y1="231.3" x2="508.9" y2="231.3" stroke="#000" stroke-width="1.2" vector-effect="non-scaling-stroke"/>
<line x1="370.9" y1="235.7" x2="505.9" y2="235.7" stroke="#000" stroke-width="1.2" vector-effect="non-scaling-stroke"/>
<path d="M 203.75,222.5 H 344 A 6 6 0 0 1 350,228.5 V 280 A 6 6 0 0 1 344,286 H 216.5 A 19 19 0 0 0 197.5,305 V 479 A 19 19 0 0 0 216.5,498 H 294 C 299,498 300,501 302,505.5 C 304,510 305,513 310,513 H 411.5 C 416.5,513 417.5,510 419.5,505.5 C 421.5,501 422.5,498 427.5,498 H 504.5 A 19 19 0 0 0 523.5,479 V 305 A 19 19 0 0 0 504.5,286 H 379 A 6 6 0 0 1 373,280 V 228.5 A 6 6 0 0 1 379,222.5 H 517.25 A 6.5 6.5 0 0 0 517.25,209.5 H 203.75 A 6.5 6.5 0 0 0 203.75,222.5 Z" fill="#fff" stroke="#000" stroke-width="1.6" vector-effect="non-scaling-stroke" stroke-linejoin="round"/>
<g clip-path="url(#cp_panel)"><path d="M 203.75,222.5 H 344 A 6 6 0 0 1 350,228.5 V 280 A 6 6 0 0 1 344,286 H 216.5 A 19 19 0 0 0 197.5,305 V 479 A 19 19 0 0 0 216.5,498 H 294 C 299,498 300,501 302,505.5 C 304,510 305,513 310,513 H 411.5 C 416.5,513 417.5,510 419.5,505.5 C 421.5,501 422.5,498 427.5,498 H 504.5 A 19 19 0 0 0 523.5,479 V 305 A 19 19 0 0 0 504.5,286 H 379 A 6 6 0 0 1 373,280 V 228.5 A 6 6 0 0 1 379,222.5 H 517.25 A 6.5 6.5 0 0 0 517.25,209.5 H 203.75 A 6.5 6.5 0 0 0 203.75,222.5 Z" fill="none" stroke="#000" stroke-width="12.5" vector-effect="non-scaling-stroke" stroke-linejoin="round"/><path d="M 203.75,222.5 H 344 A 6 6 0 0 1 350,228.5 V 280 A 6 6 0 0 1 344,286 H 216.5 A 19 19 0 0 0 197.5,305 V 479 A 19 19 0 0 0 216.5,498 H 294 C 299,498 300,501 302,505.5 C 304,510 305,513 310,513 H 411.5 C 416.5,513 417.5,510 419.5,505.5 C 421.5,501 422.5,498 427.5,498 H 504.5 A 19 19 0 0 0 523.5,479 V 305 A 19 19 0 0 0 504.5,286 H 379 A 6 6 0 0 1 373,280 V 228.5 A 6 6 0 0 1 379,222.5 H 517.25 A 6.5 6.5 0 0 0 517.25,209.5 H 203.75 A 6.5 6.5 0 0 0 203.75,222.5 Z" fill="none" stroke="#fff" stroke-width="9.7" vector-effect="non-scaling-stroke" stroke-linejoin="round"/><path d="M 203.75,222.5 H 344 A 6 6 0 0 1 350,228.5 V 280 A 6 6 0 0 1 344,286 H 216.5 A 19 19 0 0 0 197.5,305 V 479 A 19 19 0 0 0 216.5,498 H 294 C 299,498 300,501 302,505.5 C 304,510 305,513 310,513 H 411.5 C 416.5,513 417.5,510 419.5,505.5 C 421.5,501 422.5,498 427.5,498 H 504.5 A 19 19 0 0 0 523.5,479 V 305 A 19 19 0 0 0 504.5,286 H 379 A 6 6 0 0 1 373,280 V 228.5 A 6 6 0 0 1 379,222.5 H 517.25 A 6.5 6.5 0 0 0 517.25,209.5 H 203.75 A 6.5 6.5 0 0 0 203.75,222.5 Z" fill="none" stroke="#000" stroke-width="6" vector-effect="non-scaling-stroke" stroke-linejoin="round"/><path d="M 203.75,222.5 H 344 A 6 6 0 0 1 350,228.5 V 280 A 6 6 0 0 1 344,286 H 216.5 A 19 19 0 0 0 197.5,305 V 479 A 19 19 0 0 0 216.5,498 H 294 C 299,498 300,501 302,505.5 C 304,510 305,513 310,513 H 411.5 C 416.5,513 417.5,510 419.5,505.5 C 421.5,501 422.5,498 427.5,498 H 504.5 A 19 19 0 0 0 523.5,479 V 305 A 19 19 0 0 0 504.5,286 H 379 A 6 6 0 0 1 373,280 V 228.5 A 6 6 0 0 1 379,222.5 H 517.25 A 6.5 6.5 0 0 0 517.25,209.5 H 203.75 A 6.5 6.5 0 0 0 203.75,222.5 Z" fill="none" stroke="#fff" stroke-width="3.4" vector-effect="non-scaling-stroke" stroke-linejoin="round"/></g>
<path d="M 219,300 H 270.6 A 8 8 0 0 1 278.6,308 V 377 A 8 8 0 0 1 270.6,385 H 219 A 8 8 0 0 1 211,377 V 308 A 8 8 0 0 1 219,300 Z" fill="none" stroke="#000" stroke-width="9.6" vector-effect="non-scaling-stroke" stroke-linejoin="round"/>
<path d="M 219,300 H 270.6 A 8 8 0 0 1 278.6,308 V 377 A 8 8 0 0 1 270.6,385 H 219 A 8 8 0 0 1 211,377 V 308 A 8 8 0 0 1 219,300 Z" fill="none" stroke="#fff" stroke-width="6.6" vector-effect="non-scaling-stroke" stroke-linejoin="round"/>
<path d="M 219,300 H 270.6 A 8 8 0 0 1 278.6,308 V 377 A 8 8 0 0 1 270.6,385 H 219 A 8 8 0 0 1 211,377 V 308 A 8 8 0 0 1 219,300 Z" fill="#fff" stroke="#000" stroke-width="1.7" vector-effect="non-scaling-stroke" stroke-linejoin="round"/>
<g clip-path="url(#cp_c1)">
<g transform="translate(-5.91,8.54)"><path d="M 219,300 H 270.6 A 8 8 0 0 1 278.6,308 V 377 A 8 8 0 0 1 270.6,385 H 219 A 8 8 0 0 1 211,377 V 308 A 8 8 0 0 1 219,300 Z" fill="none" stroke="#000" stroke-width="1.3" vector-effect="non-scaling-stroke"/></g>
<g transform="translate(-11.81,17.08)"><path d="M 219,300 H 270.6 A 8 8 0 0 1 278.6,308 V 377 A 8 8 0 0 1 270.6,385 H 219 A 8 8 0 0 1 211,377 V 308 A 8 8 0 0 1 219,300 Z" fill="none" stroke="#000" stroke-width="1.1" vector-effect="non-scaling-stroke"/></g>
<g transform="translate(-18.56,26.85)"><path d="M 219,300 H 270.6 A 8 8 0 0 1 278.6,308 V 377 A 8 8 0 0 1 270.6,385 H 219 A 8 8 0 0 1 211,377 V 308 A 8 8 0 0 1 219,300 Z" fill="#000" stroke="#000" stroke-width="2" vector-effect="non-scaling-stroke"/></g>
<g transform="translate(-32.06,46.37)"><path d="M 219,300 H 270.6 A 8 8 0 0 1 278.6,308 V 377 A 8 8 0 0 1 270.6,385 H 219 A 8 8 0 0 1 211,377 V 308 A 8 8 0 0 1 219,300 Z" fill="none" stroke="#fff" stroke-width="1.3" vector-effect="non-scaling-stroke"/></g>
</g>
<path d="M 450.5,300 H 503 A 8 8 0 0 1 511,308 V 377 A 8 8 0 0 1 503,385 H 450.5 A 8 8 0 0 1 442.5,377 V 308 A 8 8 0 0 1 450.5,300 Z" fill="none" stroke="#000" stroke-width="9.6" vector-effect="non-scaling-stroke" stroke-linejoin="round"/>
<path d="M 450.5,300 H 503 A 8 8 0 0 1 511,308 V 377 A 8 8 0 0 1 503,385 H 450.5 A 8 8 0 0 1 442.5,377 V 308 A 8 8 0 0 1 450.5,300 Z" fill="none" stroke="#fff" stroke-width="6.6" vector-effect="non-scaling-stroke" stroke-linejoin="round"/>
<path d="M 450.5,300 H 503 A 8 8 0 0 1 511,308 V 377 A 8 8 0 0 1 503,385 H 450.5 A 8 8 0 0 1 442.5,377 V 308 A 8 8 0 0 1 450.5,300 Z" fill="#fff" stroke="#000" stroke-width="1.7" vector-effect="non-scaling-stroke" stroke-linejoin="round"/>
<g clip-path="url(#cp_c4)">
<g transform="translate(-5.91,8.54)"><path d="M 450.5,300 H 503 A 8 8 0 0 1 511,308 V 377 A 8 8 0 0 1 503,385 H 450.5 A 8 8 0 0 1 442.5,377 V 308 A 8 8 0 0 1 450.5,300 Z" fill="none" stroke="#000" stroke-width="1.3" vector-effect="non-scaling-stroke"/></g>
<g transform="translate(-11.81,17.08)"><path d="M 450.5,300 H 503 A 8 8 0 0 1 511,308 V 377 A 8 8 0 0 1 503,385 H 450.5 A 8 8 0 0 1 442.5,377 V 308 A 8 8 0 0 1 450.5,300 Z" fill="none" stroke="#000" stroke-width="1.1" vector-effect="non-scaling-stroke"/></g>
<g transform="translate(-18.56,26.85)"><path d="M 450.5,300 H 503 A 8 8 0 0 1 511,308 V 377 A 8 8 0 0 1 503,385 H 450.5 A 8 8 0 0 1 442.5,377 V 308 A 8 8 0 0 1 450.5,300 Z" fill="#000" stroke="#000" stroke-width="2" vector-effect="non-scaling-stroke"/></g>
<g transform="translate(-32.06,46.37)"><path d="M 450.5,300 H 503 A 8 8 0 0 1 511,308 V 377 A 8 8 0 0 1 503,385 H 450.5 A 8 8 0 0 1 442.5,377 V 308 A 8 8 0 0 1 450.5,300 Z" fill="none" stroke="#fff" stroke-width="1.3" vector-effect="non-scaling-stroke"/></g>
</g>
<path d="M 219,398.6 H 270.6 A 8 8 0 0 1 278.6,406.6 V 476 A 8 8 0 0 1 270.6,484 H 219 A 8 8 0 0 1 211,476 V 406.6 A 8 8 0 0 1 219,398.6 Z" fill="none" stroke="#000" stroke-width="9.6" vector-effect="non-scaling-stroke" stroke-linejoin="round"/>
<path d="M 219,398.6 H 270.6 A 8 8 0 0 1 278.6,406.6 V 476 A 8 8 0 0 1 270.6,484 H 219 A 8 8 0 0 1 211,476 V 406.6 A 8 8 0 0 1 219,398.6 Z" fill="none" stroke="#fff" stroke-width="6.6" vector-effect="non-scaling-stroke" stroke-linejoin="round"/>
<path d="M 219,398.6 H 270.6 A 8 8 0 0 1 278.6,406.6 V 476 A 8 8 0 0 1 270.6,484 H 219 A 8 8 0 0 1 211,476 V 406.6 A 8 8 0 0 1 219,398.6 Z" fill="#fff" stroke="#000" stroke-width="1.7" vector-effect="non-scaling-stroke" stroke-linejoin="round"/>
<g clip-path="url(#cp_c5)">
<g transform="translate(-5.91,8.54)"><path d="M 219,398.6 H 270.6 A 8 8 0 0 1 278.6,406.6 V 476 A 8 8 0 0 1 270.6,484 H 219 A 8 8 0 0 1 211,476 V 406.6 A 8 8 0 0 1 219,398.6 Z" fill="none" stroke="#000" stroke-width="1.3" vector-effect="non-scaling-stroke"/></g>
<g transform="translate(-11.81,17.08)"><path d="M 219,398.6 H 270.6 A 8 8 0 0 1 278.6,406.6 V 476 A 8 8 0 0 1 270.6,484 H 219 A 8 8 0 0 1 211,476 V 406.6 A 8 8 0 0 1 219,398.6 Z" fill="none" stroke="#000" stroke-width="1.1" vector-effect="non-scaling-stroke"/></g>
<g transform="translate(-18.56,26.85)"><path d="M 219,398.6 H 270.6 A 8 8 0 0 1 278.6,406.6 V 476 A 8 8 0 0 1 270.6,484 H 219 A 8 8 0 0 1 211,476 V 406.6 A 8 8 0 0 1 219,398.6 Z" fill="#000" stroke="#000" stroke-width="2" vector-effect="non-scaling-stroke"/></g>
<g transform="translate(-32.06,46.37)"><path d="M 219,398.6 H 270.6 A 8 8 0 0 1 278.6,406.6 V 476 A 8 8 0 0 1 270.6,484 H 219 A 8 8 0 0 1 211,476 V 406.6 A 8 8 0 0 1 219,398.6 Z" fill="none" stroke="#fff" stroke-width="1.3" vector-effect="non-scaling-stroke"/></g>
</g>
<path d="M 450.5,398.6 H 503 A 8 8 0 0 1 511,406.6 V 476 A 8 8 0 0 1 503,484 H 450.5 A 8 8 0 0 1 442.5,476 V 406.6 A 8 8 0 0 1 450.5,398.6 Z" fill="none" stroke="#000" stroke-width="9.6" vector-effect="non-scaling-stroke" stroke-linejoin="round"/>
<path d="M 450.5,398.6 H 503 A 8 8 0 0 1 511,406.6 V 476 A 8 8 0 0 1 503,484 H 450.5 A 8 8 0 0 1 442.5,476 V 406.6 A 8 8 0 0 1 450.5,398.6 Z" fill="none" stroke="#fff" stroke-width="6.6" vector-effect="non-scaling-stroke" stroke-linejoin="round"/>
<path d="M 450.5,398.6 H 503 A 8 8 0 0 1 511,406.6 V 476 A 8 8 0 0 1 503,484 H 450.5 A 8 8 0 0 1 442.5,476 V 406.6 A 8 8 0 0 1 450.5,398.6 Z" fill="#fff" stroke="#000" stroke-width="1.7" vector-effect="non-scaling-stroke" stroke-linejoin="round"/>
<g clip-path="url(#cp_c8)">
<g transform="translate(-5.91,8.54)"><path d="M 450.5,398.6 H 503 A 8 8 0 0 1 511,406.6 V 476 A 8 8 0 0 1 503,484 H 450.5 A 8 8 0 0 1 442.5,476 V 406.6 A 8 8 0 0 1 450.5,398.6 Z" fill="none" stroke="#000" stroke-width="1.3" vector-effect="non-scaling-stroke"/></g>
<g transform="translate(-11.81,17.08)"><path d="M 450.5,398.6 H 503 A 8 8 0 0 1 511,406.6 V 476 A 8 8 0 0 1 503,484 H 450.5 A 8 8 0 0 1 442.5,476 V 406.6 A 8 8 0 0 1 450.5,398.6 Z" fill="none" stroke="#000" stroke-width="1.1" vector-effect="non-scaling-stroke"/></g>
<g transform="translate(-18.56,26.85)"><path d="M 450.5,398.6 H 503 A 8 8 0 0 1 511,406.6 V 476 A 8 8 0 0 1 503,484 H 450.5 A 8 8 0 0 1 442.5,476 V 406.6 A 8 8 0 0 1 450.5,398.6 Z" fill="#000" stroke="#000" stroke-width="2" vector-effect="non-scaling-stroke"/></g>
<g transform="translate(-32.06,46.37)"><path d="M 450.5,398.6 H 503 A 8 8 0 0 1 511,406.6 V 476 A 8 8 0 0 1 503,484 H 450.5 A 8 8 0 0 1 442.5,476 V 406.6 A 8 8 0 0 1 450.5,398.6 Z" fill="none" stroke="#fff" stroke-width="1.3" vector-effect="non-scaling-stroke"/></g>
</g>
<path d="M 291.4,308 A 8 8 0 0 1 299.4,300 H 346.4 A 8 8 0 0 1 354.4,308 V 339.5 A 45.5 45.5 0 0 1 308.9,385 H 299.4 A 8 8 0 0 1 291.4,377 Z" fill="none" stroke="#000" stroke-width="9.6" vector-effect="non-scaling-stroke" stroke-linejoin="round"/>
<path d="M 291.4,308 A 8 8 0 0 1 299.4,300 H 346.4 A 8 8 0 0 1 354.4,308 V 339.5 A 45.5 45.5 0 0 1 308.9,385 H 299.4 A 8 8 0 0 1 291.4,377 Z" fill="none" stroke="#fff" stroke-width="6.6" vector-effect="non-scaling-stroke" stroke-linejoin="round"/>
<path d="M 291.4,308 A 8 8 0 0 1 299.4,300 H 346.4 A 8 8 0 0 1 354.4,308 V 339.5 A 45.5 45.5 0 0 1 308.9,385 H 299.4 A 8 8 0 0 1 291.4,377 Z" fill="#fff" stroke="#000" stroke-width="1.7" vector-effect="non-scaling-stroke" stroke-linejoin="round"/>
<g clip-path="url(#cp_c2)">
<g transform="translate(-5.91,8.54)"><path d="M 291.4,308 A 8 8 0 0 1 299.4,300 H 346.4 A 8 8 0 0 1 354.4,308 V 339.5 A 45.5 45.5 0 0 1 308.9,385 H 299.4 A 8 8 0 0 1 291.4,377 Z" fill="none" stroke="#000" stroke-width="1.3" vector-effect="non-scaling-stroke"/></g>
<g transform="translate(-11.81,17.08)"><path d="M 291.4,308 A 8 8 0 0 1 299.4,300 H 346.4 A 8 8 0 0 1 354.4,308 V 339.5 A 45.5 45.5 0 0 1 308.9,385 H 299.4 A 8 8 0 0 1 291.4,377 Z" fill="none" stroke="#000" stroke-width="1.1" vector-effect="non-scaling-stroke"/></g>
<g transform="translate(-18.56,26.85)"><path d="M 291.4,308 A 8 8 0 0 1 299.4,300 H 346.4 A 8 8 0 0 1 354.4,308 V 339.5 A 45.5 45.5 0 0 1 308.9,385 H 299.4 A 8 8 0 0 1 291.4,377 Z" fill="#fff" stroke="#000" stroke-width="2.2" vector-effect="non-scaling-stroke"/></g>
</g>
<path d="M 291.4,406.6 A 8 8 0 0 1 299.4,398.6 H 308.9 A 45.5 45.5 0 0 1 354.4,444.1 V 493 A 6 6 0 0 1 348.4,499 H 322 C 317.5,499 316,495 314.8,490.5 C 313.5,486 312,483.5 308,483.5 H 297.4 A 6 6 0 0 1 291.4,477.5 Z" fill="none" stroke="#000" stroke-width="9.6" vector-effect="non-scaling-stroke" stroke-linejoin="round"/>
<path d="M 291.4,406.6 A 8 8 0 0 1 299.4,398.6 H 308.9 A 45.5 45.5 0 0 1 354.4,444.1 V 493 A 6 6 0 0 1 348.4,499 H 322 C 317.5,499 316,495 314.8,490.5 C 313.5,486 312,483.5 308,483.5 H 297.4 A 6 6 0 0 1 291.4,477.5 Z" fill="none" stroke="#fff" stroke-width="6.6" vector-effect="non-scaling-stroke" stroke-linejoin="round"/>
<path d="M 291.4,406.6 A 8 8 0 0 1 299.4,398.6 H 308.9 A 45.5 45.5 0 0 1 354.4,444.1 V 493 A 6 6 0 0 1 348.4,499 H 322 C 317.5,499 316,495 314.8,490.5 C 313.5,486 312,483.5 308,483.5 H 297.4 A 6 6 0 0 1 291.4,477.5 Z" fill="#fff" stroke="#000" stroke-width="1.7" vector-effect="non-scaling-stroke" stroke-linejoin="round"/>
<g clip-path="url(#cp_c6)">
<g transform="translate(-5.91,8.54)"><path d="M 291.4,406.6 A 8 8 0 0 1 299.4,398.6 H 308.9 A 45.5 45.5 0 0 1 354.4,444.1 V 493 A 6 6 0 0 1 348.4,499 H 322 C 317.5,499 316,495 314.8,490.5 C 313.5,486 312,483.5 308,483.5 H 297.4 A 6 6 0 0 1 291.4,477.5 Z" fill="none" stroke="#000" stroke-width="1.3" vector-effect="non-scaling-stroke"/></g>
<g transform="translate(-11.81,17.08)"><path d="M 291.4,406.6 A 8 8 0 0 1 299.4,398.6 H 308.9 A 45.5 45.5 0 0 1 354.4,444.1 V 493 A 6 6 0 0 1 348.4,499 H 322 C 317.5,499 316,495 314.8,490.5 C 313.5,486 312,483.5 308,483.5 H 297.4 A 6 6 0 0 1 291.4,477.5 Z" fill="none" stroke="#000" stroke-width="1.1" vector-effect="non-scaling-stroke"/></g>
<g transform="translate(-18.56,26.85)"><path d="M 291.4,406.6 A 8 8 0 0 1 299.4,398.6 H 308.9 A 45.5 45.5 0 0 1 354.4,444.1 V 493 A 6 6 0 0 1 348.4,499 H 322 C 317.5,499 316,495 314.8,490.5 C 313.5,486 312,483.5 308,483.5 H 297.4 A 6 6 0 0 1 291.4,477.5 Z" fill="#fff" stroke="#000" stroke-width="2.2" vector-effect="non-scaling-stroke"/></g>
</g>
<path d="M 291.4,308 A 8 8 0 0 1 299.4,300 H 346.4 A 8 8 0 0 1 354.4,308 V 339.5 A 45.5 45.5 0 0 1 308.9,385 H 299.4 A 8 8 0 0 1 291.4,377 Z" transform="translate(721.5,0) scale(-1,1)" fill="none" stroke="#000" stroke-width="9.6" vector-effect="non-scaling-stroke" stroke-linejoin="round"/>
<path d="M 291.4,308 A 8 8 0 0 1 299.4,300 H 346.4 A 8 8 0 0 1 354.4,308 V 339.5 A 45.5 45.5 0 0 1 308.9,385 H 299.4 A 8 8 0 0 1 291.4,377 Z" transform="translate(721.5,0) scale(-1,1)" fill="none" stroke="#fff" stroke-width="6.6" vector-effect="non-scaling-stroke" stroke-linejoin="round"/>
<path d="M 291.4,308 A 8 8 0 0 1 299.4,300 H 346.4 A 8 8 0 0 1 354.4,308 V 339.5 A 45.5 45.5 0 0 1 308.9,385 H 299.4 A 8 8 0 0 1 291.4,377 Z" transform="translate(721.5,0) scale(-1,1)" fill="#fff" stroke="#000" stroke-width="1.7" vector-effect="non-scaling-stroke" stroke-linejoin="round"/>
<g clip-path="url(#cp_c3)">
<g transform="translate(-5.91,8.54)"><path d="M 291.4,308 A 8 8 0 0 1 299.4,300 H 346.4 A 8 8 0 0 1 354.4,308 V 339.5 A 45.5 45.5 0 0 1 308.9,385 H 299.4 A 8 8 0 0 1 291.4,377 Z" transform="translate(721.5,0) scale(-1,1)" fill="none" stroke="#000" stroke-width="1.3" vector-effect="non-scaling-stroke"/></g>
<g transform="translate(-11.81,17.08)"><path d="M 291.4,308 A 8 8 0 0 1 299.4,300 H 346.4 A 8 8 0 0 1 354.4,308 V 339.5 A 45.5 45.5 0 0 1 308.9,385 H 299.4 A 8 8 0 0 1 291.4,377 Z" transform="translate(721.5,0) scale(-1,1)" fill="none" stroke="#000" stroke-width="1.1" vector-effect="non-scaling-stroke"/></g>
<g transform="translate(-18.56,26.85)"><path d="M 291.4,308 A 8 8 0 0 1 299.4,300 H 346.4 A 8 8 0 0 1 354.4,308 V 339.5 A 45.5 45.5 0 0 1 308.9,385 H 299.4 A 8 8 0 0 1 291.4,377 Z" transform="translate(721.5,0) scale(-1,1)" fill="#fff" stroke="#000" stroke-width="2.2" vector-effect="non-scaling-stroke"/></g>
</g>
<path d="M 291.4,406.6 A 8 8 0 0 1 299.4,398.6 H 308.9 A 45.5 45.5 0 0 1 354.4,444.1 V 493 A 6 6 0 0 1 348.4,499 H 322 C 317.5,499 316,495 314.8,490.5 C 313.5,486 312,483.5 308,483.5 H 297.4 A 6 6 0 0 1 291.4,477.5 Z" transform="translate(721.5,0) scale(-1,1)" fill="none" stroke="#000" stroke-width="9.6" vector-effect="non-scaling-stroke" stroke-linejoin="round"/>
<path d="M 291.4,406.6 A 8 8 0 0 1 299.4,398.6 H 308.9 A 45.5 45.5 0 0 1 354.4,444.1 V 493 A 6 6 0 0 1 348.4,499 H 322 C 317.5,499 316,495 314.8,490.5 C 313.5,486 312,483.5 308,483.5 H 297.4 A 6 6 0 0 1 291.4,477.5 Z" transform="translate(721.5,0) scale(-1,1)" fill="none" stroke="#fff" stroke-width="6.6" vector-effect="non-scaling-stroke" stroke-linejoin="round"/>
<path d="M 291.4,406.6 A 8 8 0 0 1 299.4,398.6 H 308.9 A 45.5 45.5 0 0 1 354.4,444.1 V 493 A 6 6 0 0 1 348.4,499 H 322 C 317.5,499 316,495 314.8,490.5 C 313.5,486 312,483.5 308,483.5 H 297.4 A 6 6 0 0 1 291.4,477.5 Z" transform="translate(721.5,0) scale(-1,1)" fill="#fff" stroke="#000" stroke-width="1.7" vector-effect="non-scaling-stroke" stroke-linejoin="round"/>
<g clip-path="url(#cp_c7)">
<g transform="translate(-5.91,8.54)"><path d="M 291.4,406.6 A 8 8 0 0 1 299.4,398.6 H 308.9 A 45.5 45.5 0 0 1 354.4,444.1 V 493 A 6 6 0 0 1 348.4,499 H 322 C 317.5,499 316,495 314.8,490.5 C 313.5,486 312,483.5 308,483.5 H 297.4 A 6 6 0 0 1 291.4,477.5 Z" transform="translate(721.5,0) scale(-1,1)" fill="none" stroke="#000" stroke-width="1.3" vector-effect="non-scaling-stroke"/></g>
<g transform="translate(-11.81,17.08)"><path d="M 291.4,406.6 A 8 8 0 0 1 299.4,398.6 H 308.9 A 45.5 45.5 0 0 1 354.4,444.1 V 493 A 6 6 0 0 1 348.4,499 H 322 C 317.5,499 316,495 314.8,490.5 C 313.5,486 312,483.5 308,483.5 H 297.4 A 6 6 0 0 1 291.4,477.5 Z" transform="translate(721.5,0) scale(-1,1)" fill="none" stroke="#000" stroke-width="1.1" vector-effect="non-scaling-stroke"/></g>
<g transform="translate(-18.56,26.85)"><path d="M 291.4,406.6 A 8 8 0 0 1 299.4,398.6 H 308.9 A 45.5 45.5 0 0 1 354.4,444.1 V 493 A 6 6 0 0 1 348.4,499 H 322 C 317.5,499 316,495 314.8,490.5 C 313.5,486 312,483.5 308,483.5 H 297.4 A 6 6 0 0 1 291.4,477.5 Z" transform="translate(721.5,0) scale(-1,1)" fill="#fff" stroke="#000" stroke-width="2.2" vector-effect="non-scaling-stroke"/></g>
</g>
<circle cx="360.60" cy="390.50" r="24" fill="#000" vector-effect="non-scaling-stroke"/>
<circle cx="358.58" cy="393.43" r="24" fill="#000" vector-effect="non-scaling-stroke"/>
<circle cx="356.55" cy="396.36" r="24" fill="#000" vector-effect="non-scaling-stroke"/>
<circle cx="354.53" cy="399.29" r="24" fill="#000" vector-effect="non-scaling-stroke"/>
<circle cx="352.50" cy="402.21" r="24" fill="#000" vector-effect="non-scaling-stroke"/>
<circle cx="350.48" cy="405.14" r="24" fill="#000" vector-effect="non-scaling-stroke"/>
<circle cx="360.6" cy="390.5" r="24" fill="#fff" stroke="#000" stroke-width="1.6" vector-effect="non-scaling-stroke"/>
<circle cx="360.6" cy="390.5" r="17" fill="#fff" stroke="#000" stroke-width="1.3" vector-effect="non-scaling-stroke"/>
<circle cx="355.5" cy="397.8" r="11" fill="#000" vector-effect="non-scaling-stroke"/>
</g>
<path d="M 749,752.2 L 1003,746.6 Q 1015.5,746.3 1026,754.5 L 1171.5,864.5" stroke="#000" stroke-width="4.6" fill="none" stroke-linejoin="round" stroke-linecap="round"/>
<path d="M 749,752.8 L 894,860.5 Q 906,869.5 920,869.5 L 1171.5,865.4" stroke="#000" stroke-width="4.6" fill="none" stroke-linejoin="round" stroke-linecap="round"/>
<path d="M 764.1,758.1 L 826.1,803.5 L 830.4,803.4 L 867.0,830.2 L 862.7,830.3 L 905.3,861.5" stroke="#000" stroke-width="3.6" fill="none" stroke-linejoin="round"/>
<path d="M 767.6,754.9 L 854.2,752.5 L 856.5,754.2 L 917.2,752.5 L 914.8,750.8 L 1000.4,748.4" stroke="#000" stroke-width="3.2" fill="none" stroke-linejoin="round"/>
<path d="M 1011.3,751.2 L 1073.3,796.6 L 1069.1,796.8 L 1105.7,823.6 L 1109.9,823.4 L 1153.2,855.2" stroke="#000" stroke-width="3.0" fill="none" stroke-linejoin="round"/>
<path d="M 912.0,869.3 L 1168.0,866.2" stroke="#000" stroke-width="6.2" fill="none"/>
<path d="M 856.0,720.1 L 875.4,720.1 L 879.2,724.2 L 880.6,732.4 L 876.5,754.0 L 890.4,754.0 L 886.8,784.6 L 829.0,784.6 L 825.4,757.8 L 828.0,755.3 L 845.8,755.3 L 849.0,730.9 Z" fill="#000" stroke="#000" stroke-width="1" stroke-linejoin="miter"/>
<path d="M 857.2,735.4 L 875.4,735.4 L 871.7,761.8 L 888.9,762.2 L 885.5,782.8 L 830.3,782.8 L 834.0,763.4 L 852.3,762.2 Z" fill="#fff" stroke="none"/>
<path d="M 860.3,726.8 L 875.4,726.8 L 875.4,731.3 L 858.8,731.3 Z" fill="#fff" stroke="none"/>
<path d="M 853.2,735.5 L 850.0,757.5" stroke="#bbb" stroke-width="1" fill="none"/>
<path d="M 830.6,762.5 L 827.8,781.0" stroke="#bbb" stroke-width="1" fill="none"/>
<path d="M 975.2,718.5 L 994.6,718.5 L 998.5,722.6 L 999.9,730.8 L 995.8,752.4 L 1009.6,752.4 L 1006.0,783.0 L 948.2,783.0 L 944.6,756.2 L 947.2,753.7 L 965.0,753.7 L 968.2,729.3 Z" fill="#000" stroke="#000" stroke-width="1" stroke-linejoin="miter"/>
<path d="M 976.5,733.8 L 994.6,733.8 L 991.0,760.2 L 1008.1,760.6 L 1004.8,781.2 L 949.5,781.2 L 953.2,761.8 L 971.5,760.6 Z" fill="#fff" stroke="none"/>
<path d="M 979.5,725.2 L 994.6,725.2 L 994.6,729.7 L 978.0,729.7 Z" fill="#fff" stroke="none"/>
<path d="M 972.5,733.9 L 969.2,755.9" stroke="#bbb" stroke-width="1" fill="none"/>
<path d="M 949.9,760.9 L 947.0,779.4" stroke="#bbb" stroke-width="1" fill="none"/>
<path d="M 941.5,804.0 L 959.7,804.0 L 961.8,811.6 L 957.6,835.0 L 969.5,836.5 L 965.5,868.0 L 913.3,868.0 L 916.6,838.0 L 932.8,836.5 L 936.5,811.6 Z" fill="#000" stroke="#000" stroke-width="1" stroke-linejoin="miter"/>
<path d="M 944.8,812.0 L 958.9,812.0 L 953.9,841.0 L 966.3,843.0 L 961.8,866.7 L 920.7,866.7 L 924.9,843.5 L 939.0,842.0 Z" fill="#fff" stroke="none"/>
<path d="M 946.0,807.8 L 958.5,807.8" stroke="#ccc" stroke-width="1.3" fill="none"/>
<path d="M 940.7,813.0 L 936.6,838.0" stroke="#bbb" stroke-width="1" fill="none"/>
<path d="M 1102.7,799.3 L 1120.2,799.3 L 1122.7,806.5 L 1117.4,834.0 L 1127.6,835.5 L 1123.0,865.0 L 1077.5,865.0 L 1081.5,835.5 L 1095.0,834.5 L 1099.0,806.0 Z" fill="#000" stroke="#000" stroke-width="1" stroke-linejoin="miter"/>
<path d="M 1104.2,811.3 L 1118.4,811.3 L 1114.3,839.0 L 1124.7,841.5 L 1121.7,863.5 L 1080.7,864.3 L 1084.8,841.5 L 1098.2,840.7 Z" fill="#fff" stroke="none"/>
<path d="M 1106.0,804.6 L 1118.0,804.6" stroke="#ccc" stroke-width="1.3" fill="none"/>
</g>
</svg>
</body></html>
